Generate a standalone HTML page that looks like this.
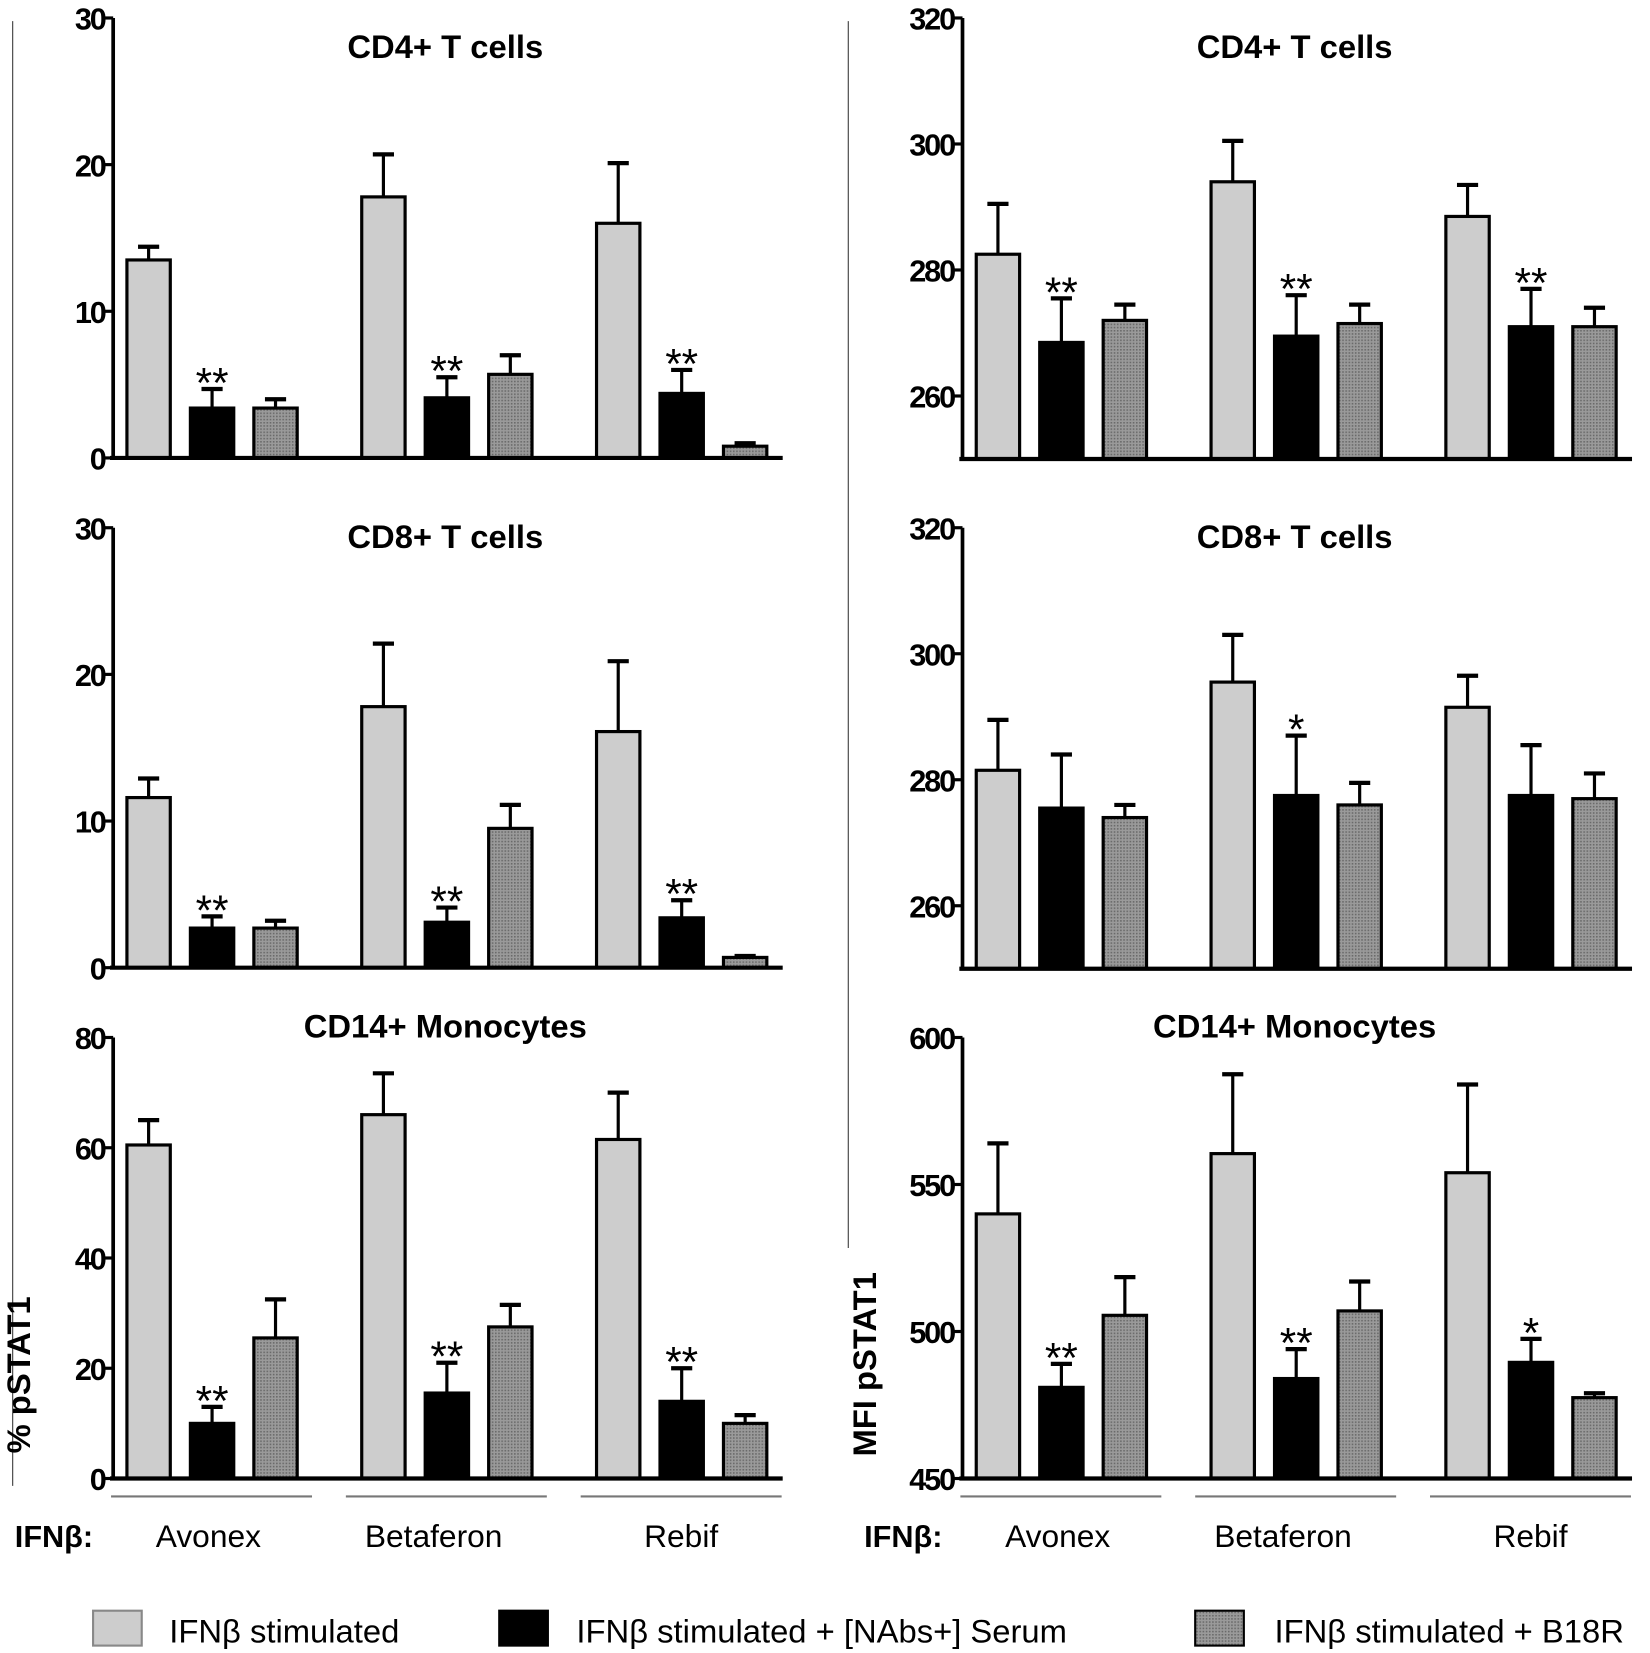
<!DOCTYPE html>
<html><head><meta charset="utf-8"><style>
html,body{margin:0;padding:0;background:#fff}
svg{display:block}
text{font-family:"Liberation Sans",sans-serif}
.tick{font-weight:bold;font-size:29px;letter-spacing:-2px}
.title{font-weight:bold;font-size:31px}
</style></head><body>
<svg id="chart" width="1650" height="1653" viewBox="0 0 1560 1563" preserveAspectRatio="none" xmlns="http://www.w3.org/2000/svg">
<defs><pattern id="dots" width="3" height="3" patternUnits="userSpaceOnUse"><rect width="3" height="3" fill="#9a9a9a"/><rect width="1.5" height="1.5" fill="#6a6a6a"/></pattern></defs>
<g id="root"></g>
</svg>
<script>
const categories = ["Avonex","Betaferon","Rebif"];
const seriesNames = ["IFNβ stimulated","IFNβ stimulated +  [NAbs+] Serum","IFNβ stimulated + B18R"];
const cd4PctMean = [[13.5,3.4,3.4],[17.8,4.1,5.7],[16.0,4.4,0.8]];
const cd4PctErr  = [[0.9,1.3,0.6],[2.9,1.4,1.3],[4.1,1.6,0.2]];
const cd8PctMean = [[11.6,2.7,2.7],[17.8,3.1,9.5],[16.1,3.4,0.7]];
const cd8PctErr  = [[1.3,0.8,0.5],[4.3,1.0,1.6],[4.8,1.2,0.1]];
const cd14PctMean = [[60.5,10,25.5],[66,15.5,27.5],[61.5,14,10]];
const cd14PctErr  = [[4.5,3,7],[7.5,5.5,4],[8.5,6,1.5]];
const cd4MfiMean = [[282.5,268.5,272],[294,269.5,271.5],[288.5,271,271]];
const cd4MfiErr  = [[8,7,2.5],[6.5,6.5,3],[5,6,3]];
const cd8MfiMean = [[281.5,275.5,274],[295.5,277.5,276],[291.5,277.5,277]];
const cd8MfiErr  = [[8,8.5,2],[7.5,9.5,3.5],[5,8,4]];
const cd14MfiMean = [[540,481,505.5],[560.5,484,507],[554,489.5,477.5]];
const cd14MfiErr  = [[24,8,13],[27,10,10],[30,8,1.5]];
const pctTicks4 = [0,10,20,30];
const pctTicks14 = [0,20,40,60,80];
const mfiTicks4 = [260,280,300,320];
const mfiTicks14 = [450,500,550,600];
const stars4Pct = ["**","**","**"];
const stars8Pct = ["**","**","**"];
const stars14Pct = ["**","**","**"];
const stars4Mfi = ["**","**","**"];
const stars8Mfi = ["","*",""];
const stars14Mfi = ["**","**","*"];

const NS="http://www.w3.org/2000/svg";
const root=document.getElementById('root');
function el(tag,attrs,parent){const e=document.createElementNS(NS,tag);for(const k in attrs)e.setAttribute(k,attrs[k]);(parent||root).appendChild(e);return e;}
const fills=["#cdcdcd","#000","url(#dots)"];

function panel(name,title,titleY,ax,top,bottom,ymin,ymax,ticks,means,errs,stars){
  const g=el('g',{});
  
  
  const right=ax+633;
  const y=v=>bottom-(v-ymin)/(ymax-ymin)*(bottom-top);
  const t=el('text',{x:ax+314,y:titleY,'text-anchor':'middle',class:'title'},g);t.textContent=title;
  
  
  categories.forEach((c,ci)=>{
    for(let s=0;s<3;s++){
      const x0=ax+13+ci*222+s*60, w=41;
      const v=means[ci][s], e=errs[ci][s];
      const yt=y(v), ye=y(v+e);
      const ln=el('line',{x1:x0+w/2,x2:x0+w/2,y1:yt,y2:ye,stroke:'#000','stroke-width':3},g);
      
      
      const cap=el('line',{x1:x0+w/2-10,x2:x0+w/2+10,y1:ye,y2:ye,stroke:'#000','stroke-width':4},g);
      
      
      const r=el('rect',{x:x0,y:yt,width:w,height:bottom-yt,fill:fills[s],stroke:'#000','stroke-width':3},g);
      
      
      if(s===1&&stars[ci]){
        const st=el('text',{x:x0+w/2,y:ye+8,'text-anchor':'middle','font-size':40},g);
        st.textContent=stars[ci];
        
        
      }
    }
  });
  const ya=el('line',{x1:ax,x2:ax,y1:top,y2:bottom+1,stroke:'#000','stroke-width':3.5},g);
  
  
  const xa=el('line',{x1:ax-3,x2:right,y1:bottom,y2:bottom,stroke:'#000','stroke-width':4},g);
  
  
  ticks.forEach(v=>{
    const yy=y(v);
    const tl=el('line',{x1:ax-8,x2:ax,y1:yy,y2:yy,stroke:'#000','stroke-width':3},g);
    
    
    const tx=el('text',{x:ax-8,y:yy+11,'text-anchor':'end',class:'tick'},g);
    tx.textContent=v;
    
    
  });
}
panel('cd4-pct-panel','CD4+ T cells',55,107,17,433,0,30,pctTicks4,cd4PctMean,cd4PctErr,stars4Pct);
panel('cd8-pct-panel','CD8+ T cells',518,107,499,915,0,30,pctTicks4,cd8PctMean,cd8PctErr,stars8Pct);
panel('cd14-pct-panel','CD14+ Monocytes',981,107,981,1398,0,80,pctTicks14,cd14PctMean,cd14PctErr,stars14Pct);
panel('cd4-mfi-panel','CD4+ T cells',55,910,17,434,250,320,mfiTicks4,cd4MfiMean,cd4MfiErr,stars4Mfi);
panel('cd8-mfi-panel','CD8+ T cells',518,910,499,916,250,320,mfiTicks4,cd8MfiMean,cd8MfiErr,stars8Mfi);
panel('cd14-mfi-panel','CD14+ Monocytes',981,910,981,1398,450,600,mfiTicks14,cd14MfiMean,cd14MfiErr,stars14Mfi);

[[12,20,1405,'% pSTAT1',20,1300],[802,20,1180,'MFI pSTAT1',820,1290]].forEach(([x,y1,y2,lab,lx,ly],i)=>{
  const l=el('line',{x1:x,x2:x,y1:y1,y2:y2,stroke:'#333','stroke-width':1});
  
  
  const tt=el('text',{x:lx,y:ly,transform:`rotate(-90 ${lx} ${ly})`,'text-anchor':'middle','font-size':31,'font-weight':'bold','dominant-baseline':'middle'});
  tt.textContent=lab;
  
  
});
const catOffsets=[90,81,93];
[107,910].forEach(ax=>{
  const ifn=el('text',{x:ax-93,y:1463,'font-size':29,'font-weight':'bold'});
  ifn.textContent='IFNβ:';
  
  
  categories.forEach((c,ci)=>{
    const gl=el('line',{x1:ax-2+ci*222,x2:ax+188+ci*222,y1:1415,y2:1415,stroke:'#777','stroke-width':2});
    
    
    const ct=el('text',{x:ax+catOffsets[ci]+ci*222,y:1463,'text-anchor':'middle','font-size':30});
    ct.textContent=c;
    
    
  });
});
[[88,160],[472,545],[1130,1205]].forEach(([bx,tx],s)=>{
  const b=el('rect',{x:bx,y:1523,width:46,height:33,fill:fills[s],stroke:s===0?'#888':'#000','stroke-width':2});
  
  
  const t=el('text',{x:tx,y:1553,'font-size':31});
  t.textContent=seriesNames[s];
  
  
});
</script>
</body></html>
